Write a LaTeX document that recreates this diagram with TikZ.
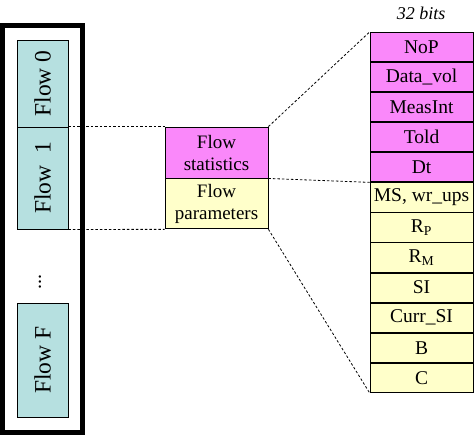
\documentclass[tikz,border=0pt]{standalone}
\usepackage{fontspec}
\setmainfont{Liberation Serif}
\usetikzlibrary{positioning}

\definecolor{flowcyan}{RGB}{182,224,224}
\definecolor{statpink}{RGB}{250,136,250}
\definecolor{parmyellow}{RGB}{255,255,202}

\tikzset{
  flowbox/.style={draw,fill=flowcyan,line width=0.9pt,inner sep=0pt,
    minimum height=51pt,rotate=90,font=\fontsize{23.5}{24}\selectfont},
  midbox/.style={draw,line width=0.9pt,inner sep=0pt,minimum width=103pt,
    align=center,font=\fontsize{19}{22}\selectfont},
  field/.style={draw,line width=0.9pt,inner sep=0pt,minimum width=103pt,
    minimum height=29.17pt,font=\fontsize{19.5}{20}\selectfont},
  link/.style={line width=0.8pt,dash pattern=on 2.5pt off 2pt}
}

\begin{document}
\begin{tikzpicture}[x=1pt,y=-1pt]
      \useasboundingbox (0,0) rectangle (474,437);

      % flow table
      \draw[line width=4.5pt] (2.5,25.5) rectangle (82.5,432.5);
      \node [flowbox,minimum width=87pt] (flow0) at (42.5,83.5) {Flow 0};
      \node [flowbox,minimum width=102pt] (flow1) at (42.5,178) {Flow\ \ 1};
      \node [rotate=90,font=\fontsize{20}{20}\selectfont] (dots) at (40,282) {...};
      \node [flowbox,minimum width=114pt] (flowF) at (42.5,360) {Flow F};

      % one flow entry
      \node [midbox,fill=statpink,minimum height=51pt] (stats) at (216.5,152.5)
        {Flow\\statistics};
      \node [midbox,fill=parmyellow,minimum height=50pt,below=0pt of stats] (params)
        {Flow\\parameters};

      % fields
      \node [font=\fontsize{18}{18}\selectfont\itshape] (bits) at (421,13) {32 bits};
      \coordinate (f0) at (421.5,32);
      \foreach \name/\txt/\col [count=\i from 1,
          evaluate=\i as \j using int(\i-1)] in
        {nop/NoP/statpink, vol/Data\_vol/statpink, meas/MeasInt/statpink,
         told/Told/statpink, dt/Dt/statpink,
         ms/{MS, wr\_ups}/parmyellow, rp/R\textsubscript{P}/parmyellow,
         rm/R\textsubscript{M}/parmyellow, si/SI/parmyellow,
         cursi/Curr\_SI/parmyellow, b/B/parmyellow, c/C/parmyellow}
        \node [field,fill=\col,below=0pt of f\j] (f\i) {\txt};

      % dashed links
      \draw[link] (flow1.south east) -- (stats.north west);
      \draw[link] (flow1.south west) -- (params.south west);
      \draw[link] (stats.north east) -- (f1.north west);
      \draw[link] (stats.south east) -- (f6.north west);
      \draw[link] (params.south east) -- (f12.south west);
\end{tikzpicture}
\end{document}
